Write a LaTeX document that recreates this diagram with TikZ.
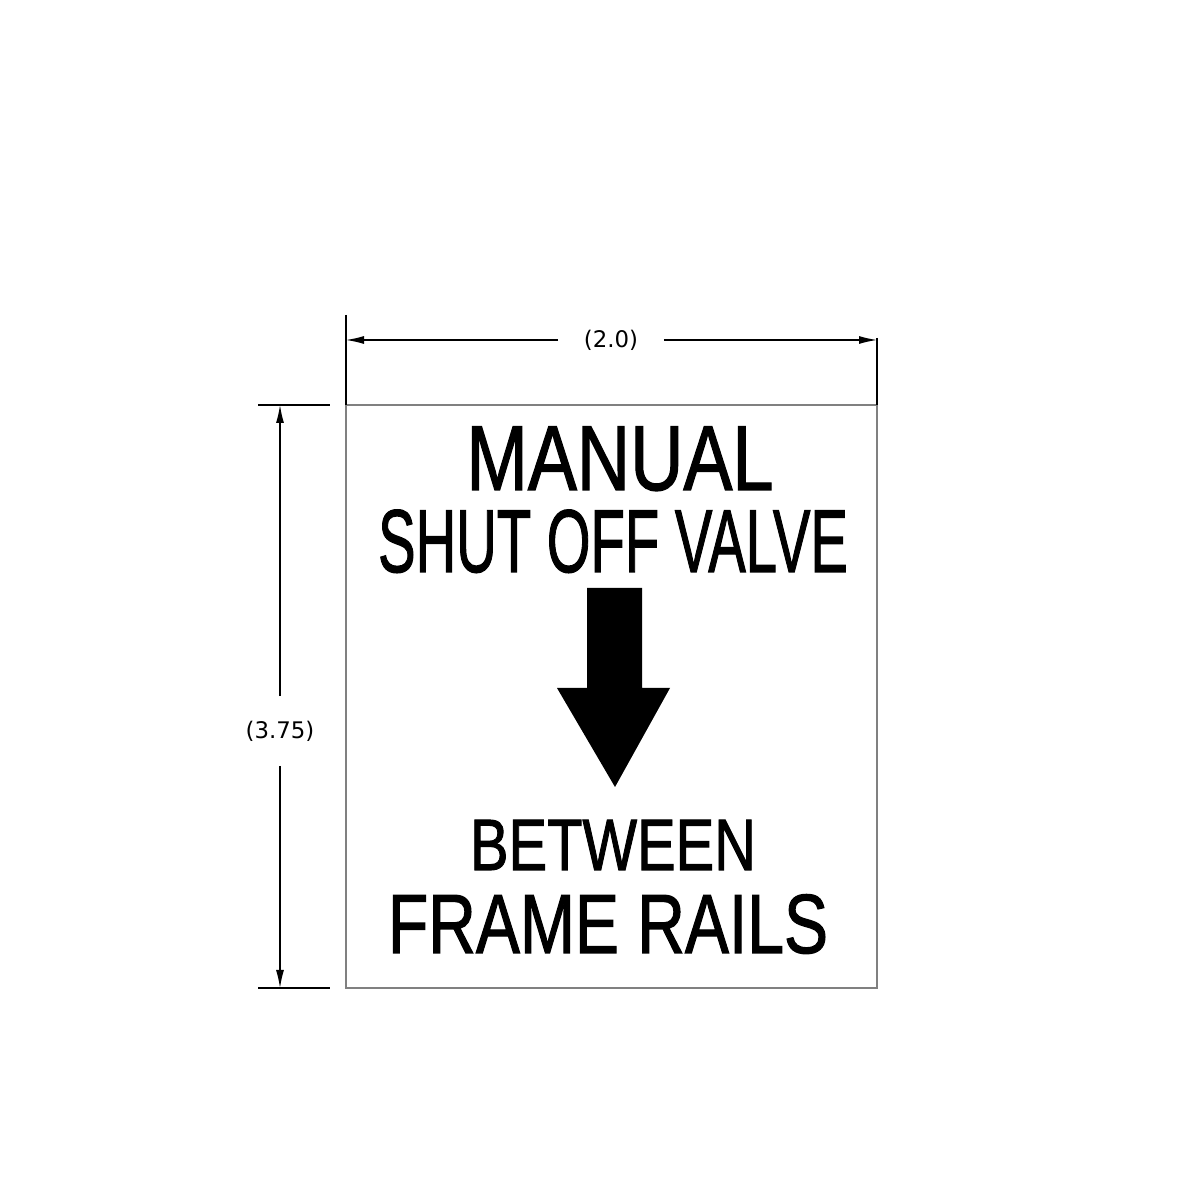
\documentclass[tikz,border=0pt]{standalone}
\usepackage{fontspec}
\setmainfont{Liberation Sans}
\newfontfamily\signfont[FakeBold=1.5]{Liberation Sans}
\newfontfamily\dimfont{DejaVu Sans}
\usetikzlibrary{arrows.meta}
\tikzset{
	dimline/.style={black,line width=0.35pt,-{Latex[length=1.8mm,width=0.8mm]}},
	extline/.style={black,line width=0.35pt},
	dimtext/.style={font=\dimfont\fontsize{6.5}{8}\selectfont,inner sep=0pt},
	signtext/.style={inner sep=0pt,anchor=base}
}
\begin{document}
\begin{tikzpicture}
		\useasboundingbox (0,0) rectangle (12,12);
		\coordinate (tl) at (3.46,7.95);
		\coordinate (tr) at (8.77,7.95);
		\coordinate (bl) at (3.46,2.12);
		\coordinate (br) at (8.77,2.12);
		\draw[gray,line width=0.4pt] (tl) -- (tr) -- (br) -- (bl) -- cycle;
		\draw[extline] (3.46,8.85) -- (tl);
		\draw[extline] (8.77,8.62) -- (tr);
		\draw[extline] (2.58,7.95) -- (3.30,7.95);
		\draw[extline] (2.58,2.12) -- (3.30,2.12);
		\coordinate (wl) at (3.46,8.60);
		\coordinate (wr) at (8.77,8.60);
		\node[dimtext,inner xsep=0.25cm] (width) at (6.11,8.60) {(2.0)};
		\draw[dimline] (width.west) -- (wl);
		\draw[dimline] (width.east) -- (wr);
		\coordinate (ht) at (2.80,7.95);
		\coordinate (hb) at (2.80,2.12);
		\node[dimtext,inner ysep=0.24cm] (height) at (2.80,4.69) {(3.75)};
		\draw[dimline] (height.north) -- (ht);
		\draw[dimline] (height.south) -- (hb);
		\node[signtext,font=\signfont\fontsize{26.2}{30}\selectfont] (manual) at (6.20,7.10) {\scalebox{0.80}[1]{MANUAL}};
		\node[signtext,font=\signfont\fontsize{25.4}{30}\selectfont] (valve) at (6.13,6.28) {\scalebox{0.63}[1]{SHUT OFF VALVE}};
		\fill[black] (5.87,6.12) -- (6.42,6.12) -- (6.42,5.12) -- (6.70,5.12) -- (6.15,4.13) -- (5.57,5.12) -- (5.87,5.12) -- cycle;
		\node[signtext,font=\signfont\fontsize{20.7}{24}\selectfont] (between) at (6.13,3.30) {\scalebox{0.795}[1]{BETWEEN}};
		\node[signtext,font=\signfont\fontsize{23.9}{28}\selectfont] (rails) at (6.08,2.47) {\scalebox{0.786}[1]{FRAME RAILS}};
\end{tikzpicture}
\end{document}
